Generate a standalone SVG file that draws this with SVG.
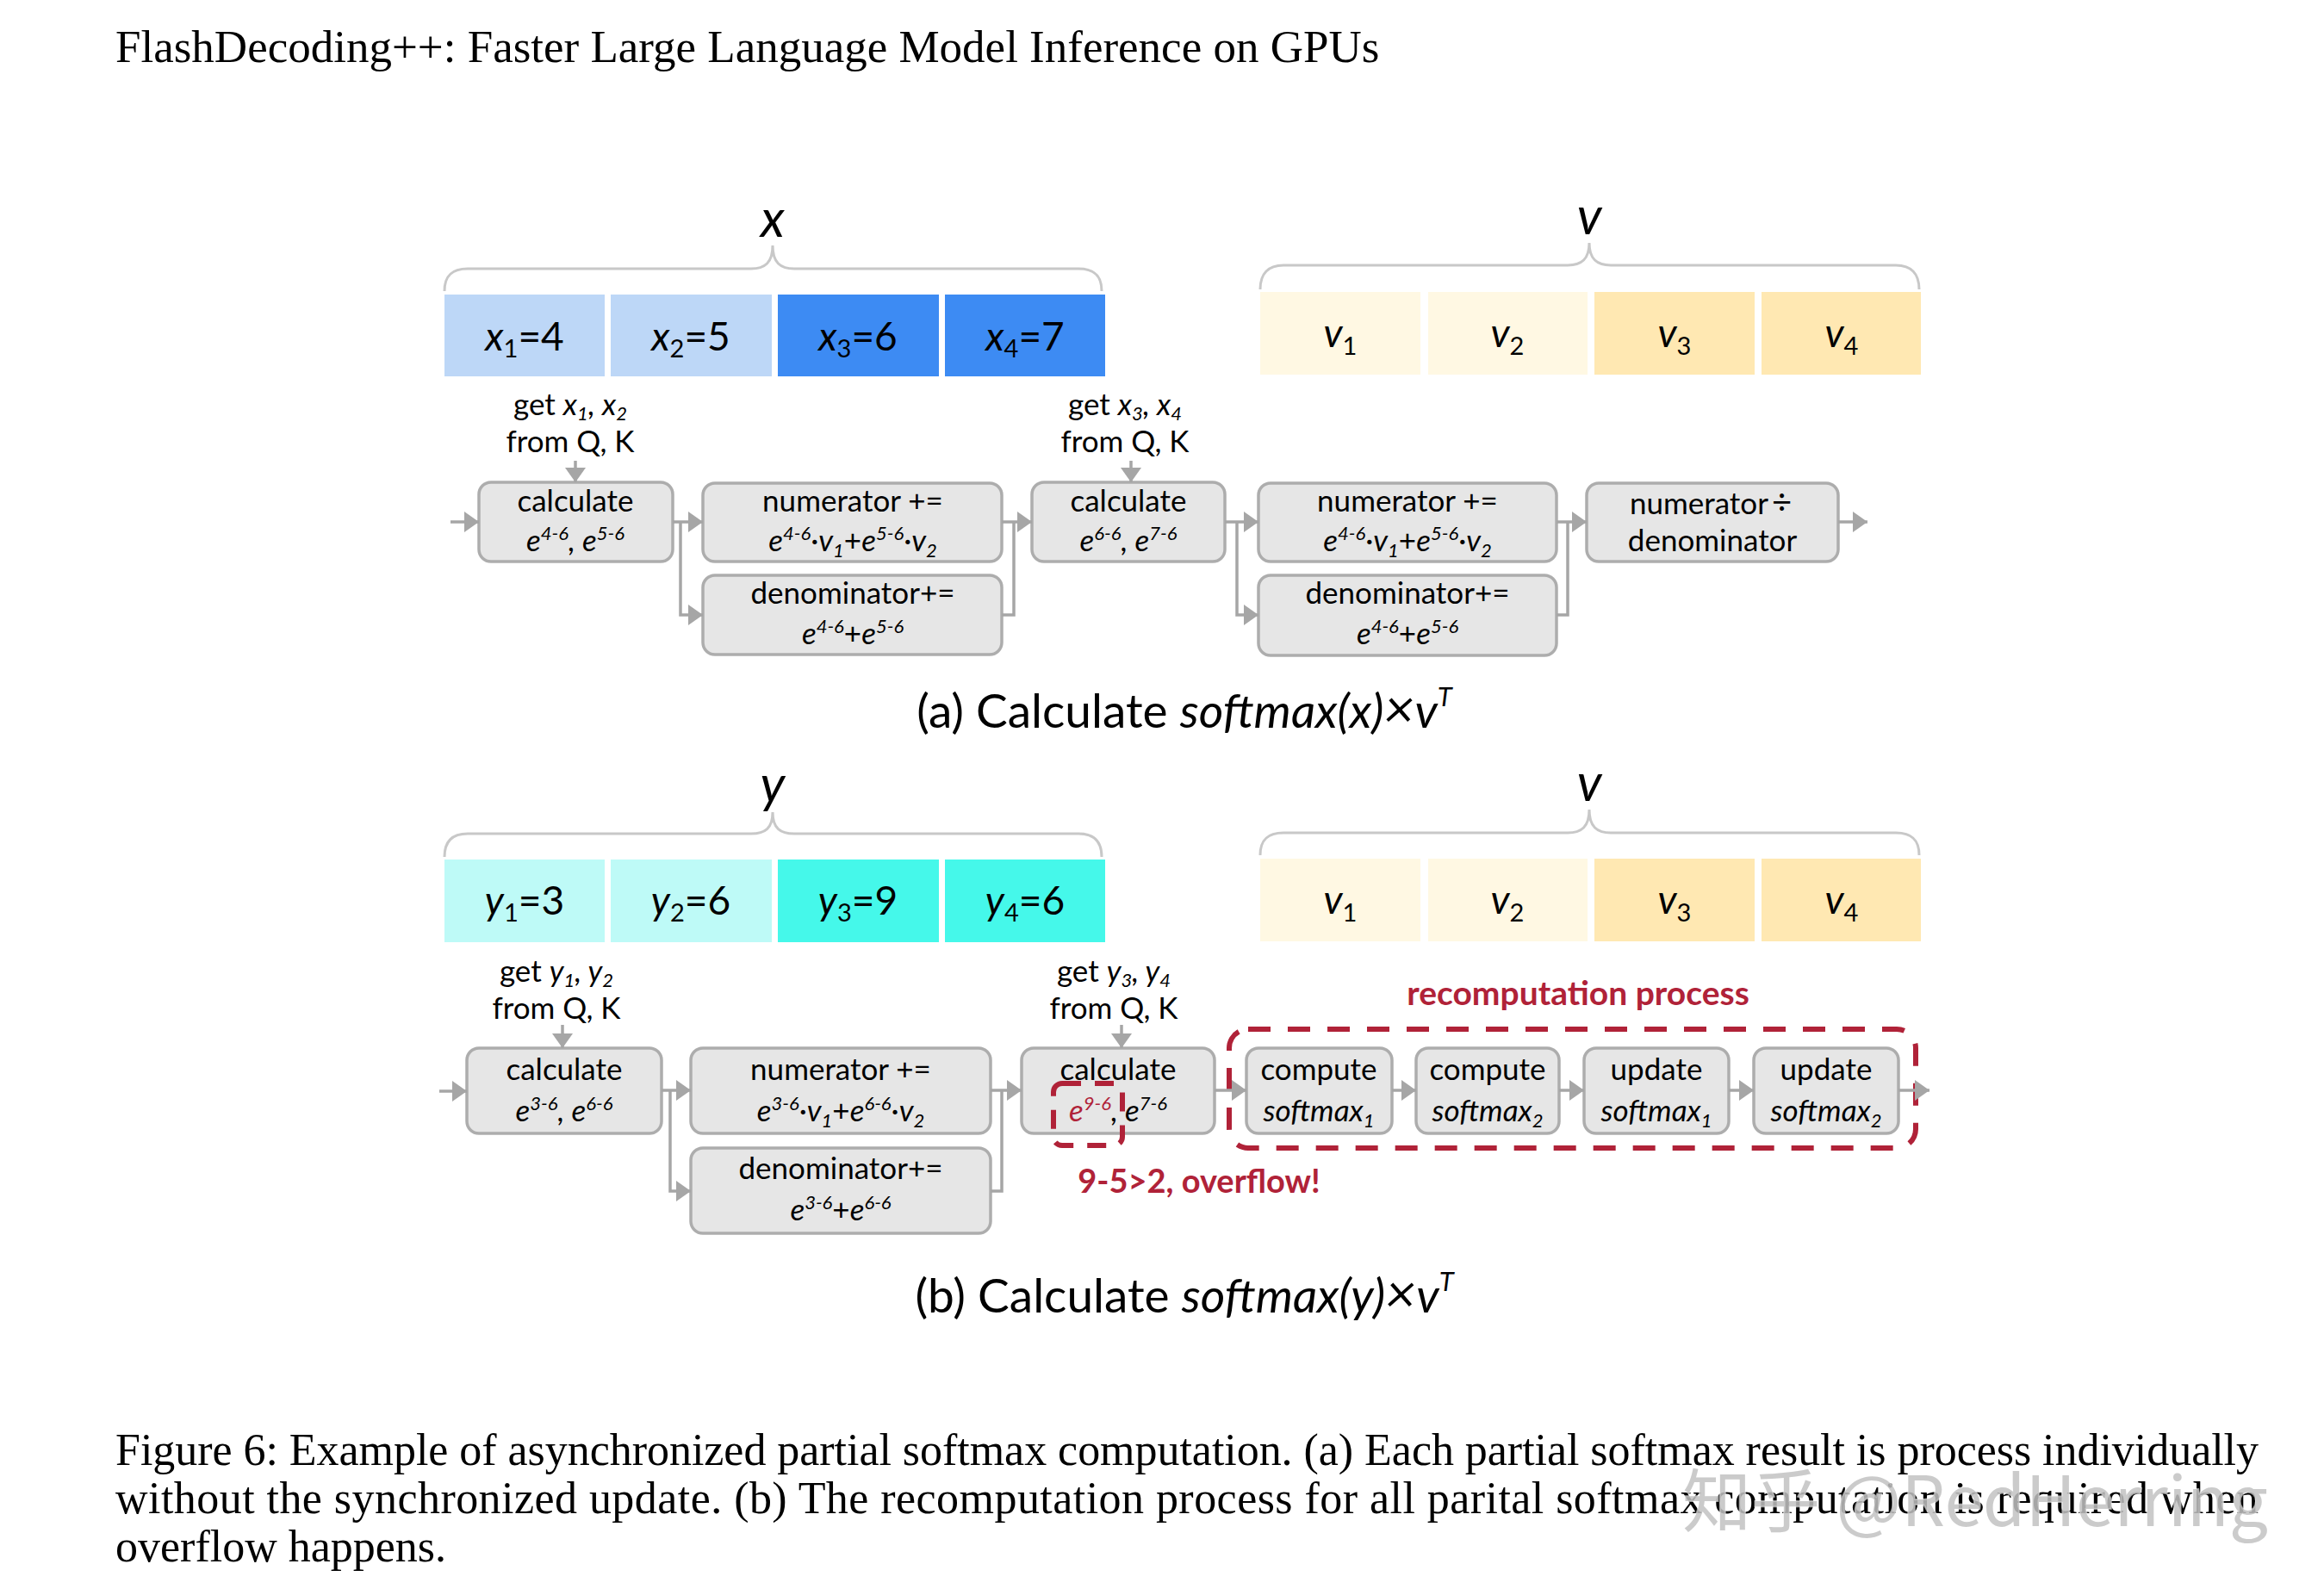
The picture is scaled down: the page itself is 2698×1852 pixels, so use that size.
<svg xmlns="http://www.w3.org/2000/svg" width="2698" height="1852" viewBox="0 0 2698 1852">
<style>
.serif{font-family:"Liberation Serif","Times New Roman",serif;fill:#000}
.bt{font-family:Lato,"Open Sans",sans-serif;font-size:35px;fill:#000;text-anchor:middle}
.cell{font-family:Lato,"Open Sans",sans-serif;font-size:46px;fill:#000;text-anchor:middle}
.lab{font-family:Lato,"Open Sans",sans-serif;font-size:60px;font-style:italic;fill:#000;text-anchor:middle}
.cap{font-family:Lato,"Open Sans",sans-serif;font-size:55px;fill:#000;text-anchor:middle}
.red{font-family:Lato,"Open Sans",sans-serif;font-weight:bold;fill:#B02238;text-anchor:middle}
.i{font-style:italic}
.sup{font-size:22px;font-style:italic}
.sub{font-size:22px;font-style:italic}
.csub{font-size:29px}
.box{fill:#E6E6E6;stroke:#ADADAD;stroke-width:3.5}
.brace{fill:none;stroke:#C8C8C8;stroke-width:3}
.con{fill:none;stroke:#A6A6A6;stroke-width:3.5}
.dash{fill:none;stroke:#B02238;stroke-width:6}
</style>
<defs>
<marker id="ah" markerUnits="userSpaceOnUse" markerWidth="18" markerHeight="24" refX="17" refY="12" orient="auto">
<path d="M0,0 L17,12 L0,24 z" fill="#A6A6A6"/>
</marker>
</defs>
<rect width="2698" height="1852" fill="#fff"/>

<text class="serif" x="134" y="72" font-size="53">FlashDecoding++: Faster Large Language Model Inference on GPUs</text>

<!-- ===== Panel (a) ===== -->
<g id="label-x"><text class="lab" x="897" y="275">x</text></g>
<path class="brace" d="M516,338 C516,320 525,312 543,312 L872,312 C888,312 897,305 897,285 C897,305 906,312 922,312 L1252,312 C1270,312 1279,320 1279,338"/>
<g id="x1"><rect x="516" y="342" width="186" height="95" fill="#BDD7F7"/><text class="cell" x="609" y="407"><tspan class="i">x</tspan><tspan class="csub" dy="8">1</tspan><tspan dy="-8">=4</tspan></text></g>
<g id="x2"><rect x="709" y="342" width="187" height="95" fill="#BDD7F7"/><text class="cell" x="802" y="407"><tspan class="i">x</tspan><tspan class="csub" dy="8">2</tspan><tspan dy="-8">=5</tspan></text></g>
<g id="x3"><rect x="903" y="342" width="187" height="95" fill="#3D8BF3"/><text class="cell" x="996" y="407"><tspan class="i">x</tspan><tspan class="csub" dy="8">3</tspan><tspan dy="-8">=6</tspan></text></g>
<g id="x4"><rect x="1097" y="342" width="186" height="95" fill="#3D8BF3"/><text class="cell" x="1190" y="407"><tspan class="i">x</tspan><tspan class="csub" dy="8">4</tspan><tspan dy="-8">=7</tspan></text></g>

<g id="label-v-a"><text class="lab" x="1845" y="272">v</text></g>
<path class="brace" d="M1463,336 C1463,318 1472,308 1490,308 L1820,308 C1836,308 1845,301 1845,282 C1845,301 1854,308 1870,308 L2201,308 C2219,308 2228,318 2228,336"/>
<g id="va1"><rect x="1463" y="339" width="186" height="96" fill="#FFF8E3"/><text class="cell" x="1556" y="403"><tspan class="i">v</tspan><tspan class="csub" dy="9">1</tspan></text></g>
<g id="va2"><rect x="1658" y="339" width="185" height="96" fill="#FFF8E3"/><text class="cell" x="1750" y="403"><tspan class="i">v</tspan><tspan class="csub" dy="9">2</tspan></text></g>
<g id="va3"><rect x="1851" y="339" width="186" height="96" fill="#FFE8B2"/><text class="cell" x="1944" y="403"><tspan class="i">v</tspan><tspan class="csub" dy="9">3</tspan></text></g>
<g id="va4"><rect x="2045" y="339" width="185" height="96" fill="#FFE8B2"/><text class="cell" x="2138" y="403"><tspan class="i">v</tspan><tspan class="csub" dy="9">4</tspan></text></g>

<g id="get-a1"><text class="bt" x="662" y="482">get <tspan class="i">x</tspan><tspan class="sub" dy="6">1</tspan><tspan class="i" dy="-6">, x</tspan><tspan class="sub" dy="6">2</tspan></text><text class="bt" x="662" y="525">from Q, K</text></g>
<g id="get-a2"><text class="bt" x="1306" y="482">get <tspan class="i">x</tspan><tspan class="sub" dy="6">3</tspan><tspan class="i" dy="-6">, x</tspan><tspan class="sub" dy="6">4</tspan></text><text class="bt" x="1306" y="525">from Q, K</text></g>

<g id="calc-a1"><rect class="box" x="556" y="560" width="225" height="92" rx="14"/>
<text class="bt" x="668" y="594">calculate</text>
<text class="bt" x="668" y="640"><tspan class="i">e</tspan><tspan class="sup" dy="-13">4-6</tspan><tspan class="i" dy="13">, e</tspan><tspan class="sup" dy="-13">5-6</tspan></text></g>
<g id="num-a1"><rect class="box" x="816" y="561" width="347" height="91" rx="14"/>
<text class="bt" x="990" y="594">numerator +=</text>
<text class="bt" x="990" y="640"><tspan class="i">e</tspan><tspan class="sup" dy="-13">4-6</tspan><tspan dy="13">·</tspan><tspan class="i">v</tspan><tspan class="sub" dy="7">1</tspan><tspan dy="-7">+</tspan><tspan class="i">e</tspan><tspan class="sup" dy="-13">5-6</tspan><tspan dy="13">·</tspan><tspan class="i">v</tspan><tspan class="sub" dy="7">2</tspan></text></g>
<g id="den-a1"><rect class="box" x="816" y="668" width="347" height="92" rx="14"/>
<text class="bt" x="990" y="701">denominator+=</text>
<text class="bt" x="990" y="748"><tspan class="i">e</tspan><tspan class="sup" dy="-13">4-6</tspan><tspan dy="13">+</tspan><tspan class="i">e</tspan><tspan class="sup" dy="-13">5-6</tspan></text></g>
<g id="calc-a2"><rect class="box" x="1198" y="560" width="224" height="92" rx="14"/>
<text class="bt" x="1310" y="594">calculate</text>
<text class="bt" x="1310" y="640"><tspan class="i">e</tspan><tspan class="sup" dy="-13">6-6</tspan><tspan class="i" dy="13">, e</tspan><tspan class="sup" dy="-13">7-6</tspan></text></g>
<g id="num-a2"><rect class="box" x="1461" y="561" width="346" height="91" rx="14"/>
<text class="bt" x="1634" y="594">numerator +=</text>
<text class="bt" x="1634" y="640"><tspan class="i">e</tspan><tspan class="sup" dy="-13">4-6</tspan><tspan dy="13">·</tspan><tspan class="i">v</tspan><tspan class="sub" dy="7">1</tspan><tspan dy="-7">+</tspan><tspan class="i">e</tspan><tspan class="sup" dy="-13">5-6</tspan><tspan dy="13">·</tspan><tspan class="i">v</tspan><tspan class="sub" dy="7">2</tspan></text></g>
<g id="den-a2"><rect class="box" x="1461" y="668" width="346" height="93" rx="14"/>
<text class="bt" x="1634" y="701">denominator+=</text>
<text class="bt" x="1634" y="748"><tspan class="i">e</tspan><tspan class="sup" dy="-13">4-6</tspan><tspan dy="13">+</tspan><tspan class="i">e</tspan><tspan class="sup" dy="-13">5-6</tspan></text></g>
<g id="final-a"><rect class="box" x="1842" y="561" width="292" height="91" rx="14"/>
<text class="bt" x="1986" y="597">numerator<tspan dx="4" font-size="40">÷</tspan></text>
<text class="bt" x="1988" y="640">denominator</text></g>

<g id="caption-a"><text class="cap" x="1375" y="845">(a) Calculate <tspan class="i">softmax(x)</tspan><tspan class="i" font-size="62">×</tspan><tspan class="i">v</tspan><tspan class="i" font-size="31" dy="-25">T</tspan></text></g>

<!-- ===== Panel (b) ===== -->
<g id="label-y"><text class="lab" x="897" y="932">y</text></g>
<path class="brace" d="M516,995 C516,977 525,968 543,968 L872,968 C888,968 897,962 897,943 C897,962 906,968 922,968 L1252,968 C1270,968 1279,977 1279,995"/>
<g id="y1"><rect x="516" y="998" width="186" height="96" fill="#BEFAF7"/><text class="cell" x="609" y="1062"><tspan class="i">y</tspan><tspan class="csub" dy="8">1</tspan><tspan dy="-8">=3</tspan></text></g>
<g id="y2"><rect x="709" y="998" width="187" height="96" fill="#BEFAF7"/><text class="cell" x="802" y="1062"><tspan class="i">y</tspan><tspan class="csub" dy="8">2</tspan><tspan dy="-8">=6</tspan></text></g>
<g id="y3"><rect x="903" y="998" width="187" height="96" fill="#45F8EA"/><text class="cell" x="996" y="1062"><tspan class="i">y</tspan><tspan class="csub" dy="8">3</tspan><tspan dy="-8">=9</tspan></text></g>
<g id="y4"><rect x="1097" y="998" width="186" height="96" fill="#45F8EA"/><text class="cell" x="1190" y="1062"><tspan class="i">y</tspan><tspan class="csub" dy="8">4</tspan><tspan dy="-8">=6</tspan></text></g>

<g id="label-v-b"><text class="lab" x="1845" y="930">v</text></g>
<path class="brace" d="M1463,993 C1463,975 1472,967 1490,967 L1820,967 C1836,967 1845,960 1845,940 C1845,960 1854,967 1870,967 L2201,967 C2219,967 2228,975 2228,993"/>
<g id="vb1"><rect x="1463" y="997" width="186" height="96" fill="#FFF8E3"/><text class="cell" x="1556" y="1061"><tspan class="i">v</tspan><tspan class="csub" dy="9">1</tspan></text></g>
<g id="vb2"><rect x="1658" y="997" width="185" height="96" fill="#FFF8E3"/><text class="cell" x="1750" y="1061"><tspan class="i">v</tspan><tspan class="csub" dy="9">2</tspan></text></g>
<g id="vb3"><rect x="1851" y="997" width="186" height="96" fill="#FFE8B2"/><text class="cell" x="1944" y="1061"><tspan class="i">v</tspan><tspan class="csub" dy="9">3</tspan></text></g>
<g id="vb4"><rect x="2045" y="997" width="185" height="96" fill="#FFE8B2"/><text class="cell" x="2138" y="1061"><tspan class="i">v</tspan><tspan class="csub" dy="9">4</tspan></text></g>

<g id="get-b1"><text class="bt" x="646" y="1140">get <tspan class="i">y</tspan><tspan class="sub" dy="6">1</tspan><tspan class="i" dy="-6">, y</tspan><tspan class="sub" dy="6">2</tspan></text><text class="bt" x="646" y="1183">from Q, K</text></g>
<g id="get-b2"><text class="bt" x="1293" y="1140">get <tspan class="i">y</tspan><tspan class="sub" dy="6">3</tspan><tspan class="i" dy="-6">, y</tspan><tspan class="sub" dy="6">4</tspan></text><text class="bt" x="1293" y="1183">from Q, K</text></g>

<g id="recomp-label"><text class="red" x="1832" y="1167" font-size="39">recomputation process</text></g>

<g id="calc-b1"><rect class="box" x="542" y="1217" width="226" height="99" rx="14"/>
<text class="bt" x="655" y="1254">calculate</text>
<text class="bt" x="655" y="1302"><tspan class="i">e</tspan><tspan class="sup" dy="-13">3-6</tspan><tspan class="i" dy="13">, e</tspan><tspan class="sup" dy="-13">6-6</tspan></text></g>
<g id="num-b1"><rect class="box" x="802" y="1217" width="348" height="99" rx="14"/>
<text class="bt" x="976" y="1254">numerator +=</text>
<text class="bt" x="976" y="1302"><tspan class="i">e</tspan><tspan class="sup" dy="-13">3-6</tspan><tspan dy="13">·</tspan><tspan class="i">v</tspan><tspan class="sub" dy="7">1</tspan><tspan dy="-7">+</tspan><tspan class="i">e</tspan><tspan class="sup" dy="-13">6-6</tspan><tspan dy="13">·</tspan><tspan class="i">v</tspan><tspan class="sub" dy="7">2</tspan></text></g>
<g id="den-b1"><rect class="box" x="802" y="1333" width="348" height="99" rx="14"/>
<text class="bt" x="976" y="1369">denominator+=</text>
<text class="bt" x="976" y="1417"><tspan class="i">e</tspan><tspan class="sup" dy="-13">3-6</tspan><tspan dy="13">+</tspan><tspan class="i">e</tspan><tspan class="sup" dy="-13">6-6</tspan></text></g>
<g id="calc-b2"><rect class="box" x="1186" y="1217" width="224" height="99" rx="14"/>
<text class="bt" x="1298" y="1254">calculate</text>
<text class="bt" x="1298" y="1302"><tspan class="i" fill="#B02238">e</tspan><tspan class="sup" fill="#B02238" dy="-13">9-6</tspan><tspan class="i" dy="13">, e</tspan><tspan class="sup" dy="-13">7-6</tspan></text></g>
<g id="comp1"><rect class="box" x="1447" y="1217" width="169" height="99" rx="14"/>
<text class="bt" x="1531" y="1254">compute</text>
<text class="bt" x="1531" y="1302"><tspan class="i">softmax</tspan><tspan class="sub" dy="7">1</tspan></text></g>
<g id="comp2"><rect class="box" x="1644" y="1217" width="166" height="99" rx="14"/>
<text class="bt" x="1727" y="1254">compute</text>
<text class="bt" x="1727" y="1302"><tspan class="i">softmax</tspan><tspan class="sub" dy="7">2</tspan></text></g>
<g id="upd1"><rect class="box" x="1839" y="1217" width="168" height="99" rx="14"/>
<text class="bt" x="1923" y="1254">update</text>
<text class="bt" x="1923" y="1302"><tspan class="i">softmax</tspan><tspan class="sub" dy="7">1</tspan></text></g>
<g id="upd2"><rect class="box" x="2036" y="1217" width="168" height="99" rx="14"/>
<text class="bt" x="2120" y="1254">update</text>
<text class="bt" x="2120" y="1302"><tspan class="i">softmax</tspan><tspan class="sub" dy="7">2</tspan></text></g>

<g id="overflow-mark"><rect class="dash" x="1223" y="1258" width="80" height="72" rx="10" stroke-dasharray="22 16"/></g>
<g id="overflow-label"><text class="red" x="1392" y="1385" font-size="38">9-5&gt;2, overflow!</text></g>
<g id="recomp-box"><rect class="dash" x="1427" y="1195" width="797" height="138" rx="22" stroke-dasharray="26 20"/></g>

<g id="caption-b"><text class="cap" x="1375" y="1524">(b) Calculate <tspan class="i">softmax(y)</tspan><tspan class="i" font-size="62">×</tspan><tspan class="i">v</tspan><tspan class="i" font-size="31" dy="-25">T</tspan></text></g>

<!-- ===== Connectors ===== -->
<g id="connectors">
<path class="con" d="M523,606 L556,606" marker-end="url(#ah)"/>
<path class="con" d="M668,535 L668,560" marker-end="url(#ah)"/>
<path class="con" d="M781,606 L816,606" marker-end="url(#ah)"/>
<path class="con" d="M790,606 L790,714 L816,714" marker-end="url(#ah)"/>
<path class="con" d="M1163,714 L1177,714 L1177,606"/>
<path class="con" d="M1163,606 L1198,606" marker-end="url(#ah)"/>
<path class="con" d="M1313,535 L1313,560" marker-end="url(#ah)"/>
<path class="con" d="M1422,606 L1461,606" marker-end="url(#ah)"/>
<path class="con" d="M1436,606 L1436,714 L1461,714" marker-end="url(#ah)"/>
<path class="con" d="M1807,714 L1820,714 L1820,606"/>
<path class="con" d="M1807,606 L1842,606" marker-end="url(#ah)"/>
<path class="con" d="M2134,606 L2168,606" marker-end="url(#ah)"/>

<path class="con" d="M510,1267 L542,1267" marker-end="url(#ah)"/>
<path class="con" d="M653,1190 L653,1217" marker-end="url(#ah)"/>
<path class="con" d="M768,1266 L802,1266" marker-end="url(#ah)"/>
<path class="con" d="M778,1266 L778,1383 L802,1383" marker-end="url(#ah)"/>
<path class="con" d="M1150,1383 L1163,1383 L1163,1266"/>
<path class="con" d="M1150,1266 L1186,1266" marker-end="url(#ah)"/>
<path class="con" d="M1302,1190 L1302,1217" marker-end="url(#ah)"/>
<path class="con" d="M1410,1266 L1447,1266" marker-end="url(#ah)"/>
<path class="con" d="M1616,1266 L1644,1266" marker-end="url(#ah)"/>
<path class="con" d="M1810,1266 L1839,1266" marker-end="url(#ah)"/>
<path class="con" d="M2007,1266 L2036,1266" marker-end="url(#ah)"/>
<path class="con" d="M2204,1266 L2240,1266" marker-end="url(#ah)"/>
</g>

<g id="figure-caption">
<text class="serif" x="134" y="1701" font-size="52" textLength="2488" lengthAdjust="spacing">Figure 6: Example of asynchronized partial softmax computation. (a) Each partial softmax result is process individually</text>
<text class="serif" x="134" y="1757" font-size="52" textLength="2488" lengthAdjust="spacing">without the synchronized update. (b) The recomputation process for all parital softmax computation is required when</text>
<text class="serif" x="134" y="1813" font-size="52">overflow happens.</text>
</g>
<g id="watermark"><text x="1953" y="1772" font-family="'Noto Sans CJK SC','Noto Sans',sans-serif" font-size="80" textLength="680" lengthAdjust="spacingAndGlyphs" fill="#C2C2C2" fill-opacity="0.85" stroke="#FFFFFF" stroke-width="2" stroke-opacity="0.6" paint-order="stroke">知乎 @RedHerring</text></g>
</svg>
